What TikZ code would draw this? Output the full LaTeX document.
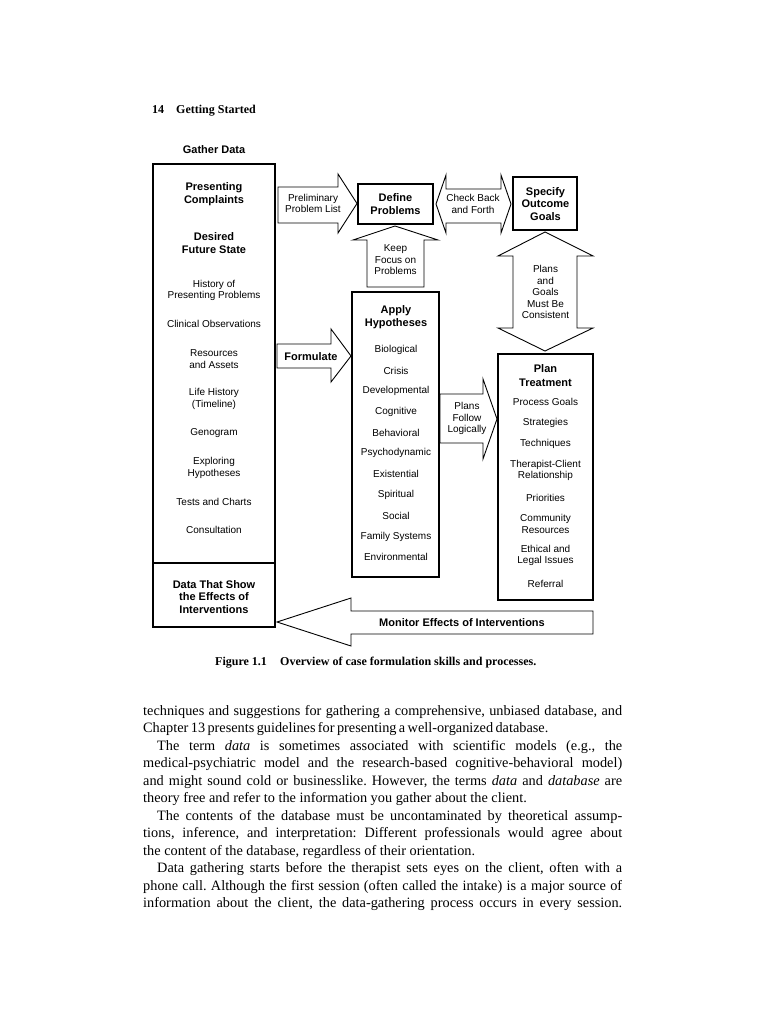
\documentclass[tikz,border=0pt]{standalone}
\usepackage{fontspec}
\setmainfont{Liberation Serif}
\newfontfamily\diag{Liberation Sans}
\begin{document}
\frenchspacing
\begin{tikzpicture}[x=1pt,y=-1pt,
  box/.style={draw, line width=1.2pt, rectangle, inner sep=0pt},
  arr/.style={draw, line width=0.9pt, line join=miter},
  lbl/.style={font=\diag\fontsize{10}{11.5}\selectfont, align=center, inner sep=0pt},
  blbl/.style={font=\diag\bfseries\fontsize{11}{12.7}\selectfont, align=center, inner sep=0pt},
  bodyl/.style={font=\frenchspacing\fontsize{14.3}{17.5}\selectfont, anchor=base west, inner sep=0pt},
  capl/.style={font=\bfseries\fontsize{12}{14}\selectfont, anchor=base west, inner sep=0pt},
]
\useasboundingbox[fill=white] (0,0) rectangle (768,1024);

% header
\node[capl] (pgnum) at (152,114) {14};
\node[capl] (hdr) at (176,114) {Getting Started};

% boxes
\node[box, minimum width=122pt, minimum height=463pt] (gather) at (214,395.5) {};
\draw[line width=1.2pt] (153,563) coordinate (dl) -- (275,563) coordinate (dr);
\node[box, minimum width=75pt, minimum height=40pt] (define) at (395.5,204) {};
\node[box, minimum width=64pt, minimum height=53pt] (specify) at (545,203.5) {};
\node[box, minimum width=87pt, minimum height=285pt] (apply) at (395.5,434.5) {};
\node[box, minimum width=95pt, minimum height=246pt] (plan) at (545.5,477) {};

% block arrows
\draw[arr] (278,187) -- (338,187) -- (338,174) -- (357,203.5) -- (338,233) -- (338,223) -- (278,223) -- cycle;
\draw[arr] (436,204) -- (446,175) -- (446,189) -- (501,189) -- (501,175) -- (511,204) -- (501,233) -- (501,223) -- (446,223) -- (446,233) -- cycle;
\draw[arr] (395,226) -- (438,240) -- (424,240) -- (424,287) -- (367,287) -- (367,240) -- (353,240) -- cycle;
\draw[arr] (545,232) -- (593,256) -- (577,256) -- (577,328) -- (593,328) -- (545,351) -- (498,328) -- (513,328) -- (513,256) -- (498,256) -- cycle;
\draw[arr] (440,394) -- (483,394) -- (483,379) -- (497,419) -- (483,459) -- (483,443) -- (440,443) -- cycle;
\draw[arr] (277,344) -- (331,344) -- (331,329) -- (351,356) -- (331,382) -- (331,368) -- (277,368) -- cycle;
\draw[arr] (277,622) -- (351,598) -- (351,611) -- (593,611) -- (593,634) -- (351,634) -- (351,646) -- cycle;

% gather texts
\node[blbl] (gd) at (214,150) {Gather Data};
\node[blbl] (pc) at (214,194.5) {Presenting\\Complaints};
\node[blbl] (dfs) at (214,243) {Desired\\Future State};
\node[lbl] (hist) at (214,290.5) {History of\\Presenting Problems};
\node[lbl] (clin) at (214,324) {Clinical Observations};
\node[lbl] (res) at (214,359) {Resources\\and Assets};
\node[lbl] (life) at (214,399) {Life History\\(Timeline)};
\node[lbl] (geno) at (214,433) {Genogram};
\node[lbl] (expl) at (214,468) {Exploring\\Hypotheses};
\node[lbl] (tests) at (214,502) {Tests and Charts};
\node[lbl] (cons) at (214,530) {Consultation};
\node[blbl] (dts) at (214,597) {Data That Show\\the Effects of\\Interventions};

% arrow texts
\node[lbl] (prel) at (313,203.5) {Preliminary\\Problem List};
\node[blbl] (deft) at (395.5,204) {Define\\Problems};
\node[lbl] (chk) at (473,204) {Check Back\\and Forth};
\node[blbl] (spt) at (545.5,204) {Specify\\Outcome\\Goals};
\node[lbl] (keep) at (395.5,260) {Keep\\Focus on\\Problems};
\node[lbl] (pag) at (545.5,292) {Plans\\and\\Goals\\Must Be\\Consistent};
\node[blbl] (form) at (311,357) {Formulate};
\node[lbl] (pfl) at (467,418.5) {Plans\\Follow\\Logically};
\node[blbl] (mon) at (462,623) {Monitor Effects of Interventions};

% apply texts
\node[blbl] (aph) at (396,317) {Apply\\Hypotheses};
\node[lbl] (a1) at (396,350) {Biological};
\node[lbl] (a2) at (396,370.5) {Crisis};
\node[lbl] (a3) at (396,391) {Developmental};
\node[lbl] (a4) at (396,412) {Cognitive};
\node[lbl] (a5) at (396,432.5) {Behavioral};
\node[lbl] (a6) at (396,453) {Psychodynamic};
\node[lbl] (a7) at (396,474) {Existential};
\node[lbl] (a8) at (396,495) {Spiritual};
\node[lbl] (a9) at (396,516) {Social};
\node[lbl] (a10) at (396,537) {Family Systems};
\node[lbl] (a11) at (396,557) {Environmental};

% plan texts
\node[blbl, font=\diag\bfseries\fontsize{11}{14}\selectfont] (ptt) at (545.5,376) {Plan\\Treatment};
\node[lbl] (p1) at (545.5,402) {Process Goals};
\node[lbl] (p2) at (545.5,423) {Strategies};
\node[lbl] (p3) at (545.5,444) {Techniques};
\node[lbl] (p4) at (545.5,470.5) {Therapist-Client\\Relationship};
\node[lbl] (p5) at (545.5,498) {Priorities};
\node[lbl] (p6) at (545.5,524) {Community\\Resources};
\node[lbl] (p7) at (545.5,555.5) {Ethical and\\Legal Issues};
\node[lbl] (p8) at (545.5,584) {Referral};

% caption
\node[capl] (fig) at (215,665) {Figure 1.1};
\node[capl] (figt) at (280,665) {Overview of case formulation skills and processes.};

% body text
\node[bodyl] (l1) at (143,715) {\makebox[479pt][s]{techniques and suggestions for gathering a comprehensive, unbiased database, and}};
\node[bodyl] (l2) at (143,732.5) {\makebox[375pt][s]{Chapter 13 presents guidelines for presenting a well-organized database.}};
\node[bodyl] (l3) at (157,750) {\makebox[465pt][s]{The term \textit{data} is sometimes associated with scientific models (e.g., the}};
\node[bodyl] (l4) at (143,767.5) {\makebox[479pt][s]{medical-psychiatric model and the research-based cognitive-behavioral model)}};
\node[bodyl] (l5) at (143,785) {\makebox[479pt][s]{and might sound cold or businesslike. However, the terms \textit{data} and \textit{database} are}};
\node[bodyl] (l6) at (143,802.5) {theory free and refer to the information you gather about the client.};
\node[bodyl] (l7) at (157,820) {\makebox[465pt][s]{The contents of the database must be uncontaminated by theoretical assump-}};
\node[bodyl] (l8) at (143,837.5) {\makebox[479pt][s]{tions, inference, and interpretation: Different professionals would agree about}};
\node[bodyl] (l9) at (143,855) {the content of the database, regardless of their orientation.};
\node[bodyl] (l10) at (157,872.5) {\makebox[465pt][s]{Data gathering starts before the therapist sets eyes on the client, often with a}};
\node[bodyl] (l11) at (143,890) {\makebox[479pt][s]{phone call. Although the first session (often called the intake) is a major source of}};
\node[bodyl] (l12) at (143,907.5) {\makebox[479pt][s]{information about the client, the data-gathering process occurs in every session.}};
\end{tikzpicture}
\end{document}
